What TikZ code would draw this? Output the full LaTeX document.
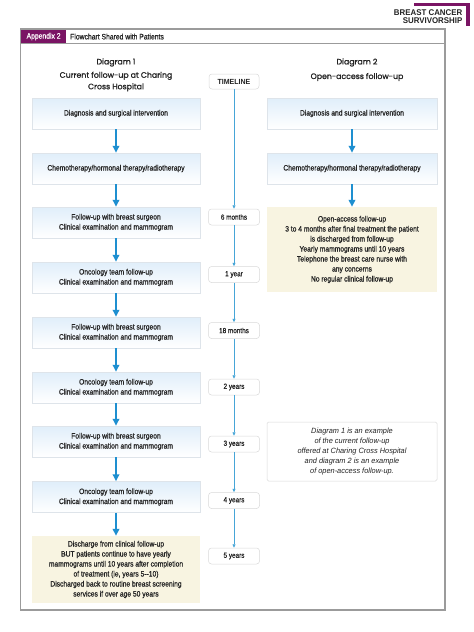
\documentclass[tikz,border=0pt]{standalone}
\usepackage{fontspec}
\setmainfont{Liberation Sans}
\newfontfamily\boxf{Liberation Sans}[FakeStretch=0.86,FakeBold=0.7]
\newfontfamily\headf{Poppins}[FakeBold=1.2]
\newfontfamily\notef{Liberation Sans}[FakeStretch=0.97]
\newfontfamily\banf{Liberation Sans}[FakeStretch=0.95]
\usetikzlibrary{arrows.meta}
\definecolor{purp}{RGB}{122,20,100}
\definecolor{arrblue}{RGB}{30,143,208}
\definecolor{tlblue}{RGB}{70,165,215}
\definecolor{framec}{RGB}{155,155,155}
\definecolor{boxtop}{RGB}{224,238,250}
\definecolor{boxline}{RGB}{222,228,234}
\definecolor{cream}{RGB}{248,244,225}
\definecolor{txt}{RGB}{35,35,35}
\definecolor{tlline}{RGB}{218,218,218}
\begin{document}
\begin{tikzpicture}[x=1pt,y=-1pt,
  flowbox/.style={minimum width=168pt, minimum height=31pt, inner sep=0pt,
    top color=boxtop, bottom color=white, draw=boxline, line width=0.5pt,
    font=\boxf\fontsize{7.8}{10}\selectfont, text=txt, align=center},
  creambox/.style={inner sep=0pt, fill=cream,
    font=\boxf\fontsize{7.8}{10}\selectfont, text=txt, align=center},
  notebox/.style={minimum width=170pt, minimum height=59pt, inner sep=0pt,
    fill=white, draw=tlline, line width=0.5pt, rounded corners=1.5pt,
    font=\notef\itshape\fontsize{7.6}{9.9}\selectfont, text=txt, align=center},
  timebox/.style={minimum width=51pt, minimum height=16pt, inner sep=0pt,
    fill=white, draw=tlline, line width=0.5pt, rounded corners=3pt,
    font=\boxf\fontsize{7.4}{9}\selectfont, text=txt},
  headtxt/.style={font=\headf\fontsize{7.8}{11.5}\selectfont, text=txt, align=center, inner sep=0pt},
  flowarr/.style={draw=arrblue, line width=2.3pt, -{Triangle[width=6.5pt,length=7pt]}},
  tlarr/.style={draw=tlblue, line width=0.7pt, -{Triangle[width=3pt,length=3.5pt]}}
]
\useasboundingbox (0,0) rectangle (474,632);
\fill[white] (0,0) rectangle (474,632);

% banner
\fill[purp] (414,2.5) rectangle (470,5.5);
\fill[purp] (466,2.5) rectangle (470,26);
\node[anchor=north east, align=right, inner sep=0pt, font=\banf\bfseries\fontsize{8.3}{7.9}\selectfont, text=txt] (banner) at (462.5,9.3) {BREAST CANCER\\SURVIVORSHIP};

% frame and header
\draw[framec, line width=1.4pt] (20.5,29) rectangle (445,610);
\fill[purp] (21.2,29.7) rectangle (66,43);
\draw[framec, line width=1pt] (20.5,43) -- (445,43);
\node[inner sep=0pt, text=white, font=\boxf\fontsize{7.9}{9}\selectfont] (appx) at (43.6,36.6) {Appendix 2};
\node[anchor=west, inner sep=0pt, text=txt, font=\boxf\fontsize{7.9}{9}\selectfont] (ftitle) at (70,36.6) {Flowchart Shared with Patients};

% column headings
\node[headtxt] (d1) at (116,62.5) {Diagram 1};
\node[headtxt] (d1b) at (116,81.5) {Current follow-up at Charing\\Cross Hospital};
\node[headtxt] (d2) at (357,62.5) {Diagram 2};
\node[headtxt] (d2b) at (357,77) {Open-access follow-up};

\node[timebox, minimum width=50pt, minimum height=15pt, font=\banf\bfseries\fontsize{7.4}{9}\selectfont] (tl) at (234,81.5) {TIMELINE};

% left column
\node[flowbox] (L1) at (116,113.5) {Diagnosis and surgical intervention};
\node[flowbox] (L2) at (116,168.5) {Chemotherapy/hormonal therapy/radiotherapy};
\node[flowbox] (L3) at (116,222.5) {Follow-up with breast surgeon\\Clinical examination and mammogram};
\node[flowbox] (L4) at (116,277.5) {Oncology team follow-up\\Clinical examination and mammogram};
\node[flowbox] (L5) at (116,332.5) {Follow-up with breast surgeon\\Clinical examination and mammogram};
\node[flowbox] (L6) at (116,387.5) {Oncology team follow-up\\Clinical examination and mammogram};
\node[flowbox] (L7) at (116,441.5) {Follow-up with breast surgeon\\Clinical examination and mammogram};
\node[flowbox] (L8) at (116,497) {Oncology team follow-up\\Clinical examination and mammogram};
\node[creambox, minimum width=168pt, minimum height=67pt] (L9) at (116,569.5) {Discharge from clinical follow-up\\BUT patients continue to have yearly\\mammograms until 10 years after completion\\of treatment (ie, years 5--10)\\Discharged back to routine breast screening\\services if over age 50 years};

\foreach \a/\b in {L1/L2,L2/L3,L3/L4,L4/L5,L5/L6,L6/L7,L7/L8,L8/L9}
  \draw[flowarr] (\a) -- (\b);

% timeline
\node[timebox] (t1) at (234,217) {6 months};
\node[timebox] (t2) at (234,274.5) {1 year};
\node[timebox] (t3) at (234,330.5) {18 months};
\node[timebox] (t4) at (234,387) {2 years};
\node[timebox] (t5) at (234,444) {3 years};
\node[timebox] (t6) at (234,500.5) {4 years};
\node[timebox] (t7) at (234,556) {5 years};
\foreach \a/\b in {tl/t1,t1/t2,t2/t3,t3/t4,t4/t5,t5/t6,t6/t7}
  \draw[tlarr] (\a) -- (\b);

% right column
\node[flowbox, minimum width=170pt] (R1) at (352,113.5) {Diagnosis and surgical intervention};
\node[flowbox, minimum width=170pt] (R2) at (352,168.5) {Chemotherapy/hormonal therapy/radiotherapy};
\node[creambox, minimum width=170pt, minimum height=85pt] (R3) at (352,249.5) {Open-access follow-up\\3 to 4 months after final treatment the patient\\is discharged from follow-up\\Yearly mammograms until 10 years\\Telephone the breast care nurse with\\any concerns\\No regular clinical follow-up};
\draw[flowarr] (R1) -- (R2);
\draw[flowarr] (R2) -- (R3);

\node[notebox] (note) at (352,451.5) {Diagram 1 is an example\\of the current follow-up\\offered at Charing Cross Hospital\\and diagram 2 is an example\\of open-access follow-up.};
\end{tikzpicture}
\end{document}
